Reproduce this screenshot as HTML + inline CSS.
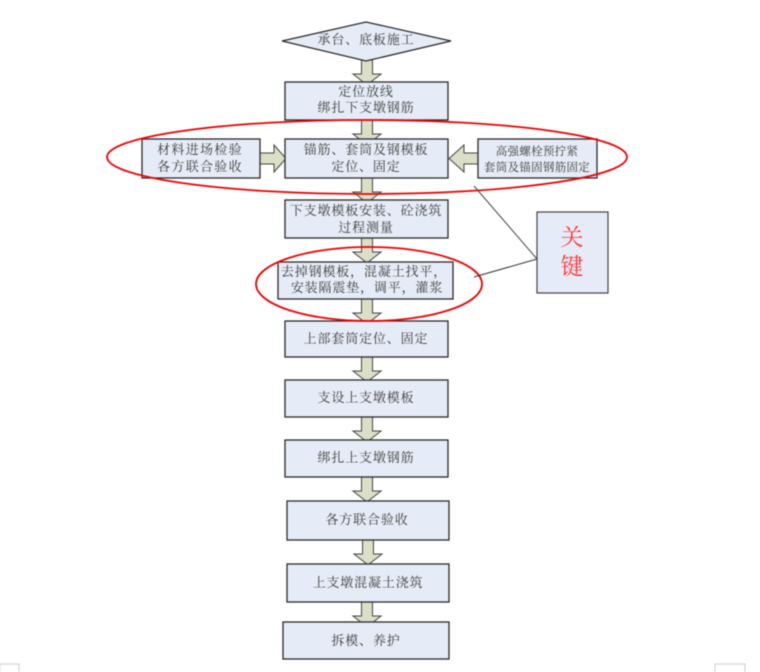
<!DOCTYPE html>
<html>
<head>
<meta charset="utf-8">
<style>
html,body{margin:0;padding:0;background:#fff;width:760px;height:672px;overflow:hidden}
svg{display:block;filter:blur(0.45px)}
text{font-family:"Liberation Serif","Noto Serif CJK SC",serif;font-size:13px;letter-spacing:0.85px;fill:#3a3a3a;text-anchor:middle}
.b{fill:#e6ecf7;stroke:#2a2a2a;stroke-width:1.3}
.a{fill:#dadfc6;stroke:#444;stroke-width:1}
</style>
</head>
<body>
<svg width="760" height="672" viewBox="0 0 760 672" xmlns="http://www.w3.org/2000/svg">
<defs>
<path id="d" class="a" d="M-5.500 0V14H-14L0 25L14 14H5.500V0Z"/>
</defs>
<use href="#d" x="367" y="60"/>
<use href="#d" x="367" y="120"/>
<use href="#d" x="367" y="178"/>
<use href="#d" x="367" y="238"/>
<use href="#d" x="367" y="299"/>
<use href="#d" x="367" y="357"/>
<use href="#d" x="367" y="417"/>
<use href="#d" x="367" y="477"/>
<use href="#d" x="368" y="540"/>
<use href="#d" x="367" y="602"/>
<path class="a" d="M260 153H274V145L286 158.500L274 172V164H260Z"/>
<path class="a" d="M478 153H464V145L449 158.500L464 172V164H478Z"/>

<polygon class="b" points="282,41 366,22 451,41 366,61"/>
<text x="366" y="44">承台、底板施工</text>

<rect class="b" x="285" y="82" width="163" height="38"/>
<text x="366" y="96">定位放线</text><text x="366" y="112">绑扎下支墩钢筋</text>

<rect class="b" x="285" y="139" width="163" height="39"/>
<text x="366" y="154">锚筋、套筒及钢模板</text><text x="366" y="171">定位、固定</text>

<rect class="b" x="142" y="139" width="118" height="39"/>
<text x="200" y="154" style="letter-spacing:1.300px">材料进场检验</text><text x="200" y="171" style="letter-spacing:1.300px">各方联合验收</text>

<rect class="b" x="478" y="139" width="119" height="39"/>
<text x="537" y="155" style="font-size:11.500px;letter-spacing:.3px">高强螺栓预拧紧</text><text x="537" y="171" style="font-size:11.500px;letter-spacing:.3px">套筒及锚固钢筋固定</text>

<rect class="b" x="285" y="200" width="163" height="38"/>
<text x="366" y="215">下支墩模板安装、砼浇筑</text><text x="366" y="232">过程测量</text>

<rect class="b" x="278" y="262" width="175" height="37"/>
<text x="364" y="276">去掉钢模板，混凝土找平，</text><text x="367" y="292">安装隔震垫，调平，灌浆</text>

<rect class="b" x="285" y="321" width="163" height="36"/>
<text x="366" y="343">上部套筒定位、固定</text>

<rect class="b" x="285" y="380" width="163" height="37"/>
<text x="366" y="402">支设上支墩模板</text>

<rect class="b" x="285" y="440" width="163" height="37"/>
<text x="366" y="462">绑扎上支墩钢筋</text>

<rect class="b" x="287" y="501" width="162" height="39"/>
<text x="367" y="524">各方联合验收</text>

<rect class="b" x="287" y="564" width="162" height="38"/>
<text x="368" y="587">上支墩混凝土浇筑</text>

<rect class="b" x="283" y="622" width="166" height="37"/>
<text x="366" y="645">拆模、养护</text>

<ellipse cx="367" cy="157" rx="260" ry="37" fill="none" stroke="#f00000" stroke-width="1.800"/>
<ellipse cx="369" cy="284" rx="113" ry="37" fill="none" stroke="#f00000" stroke-width="1.800"/>

<line x1="474" y1="186" x2="537" y2="259" stroke="#444" stroke-width="1"/>
<line x1="474" y1="277" x2="537" y2="259" stroke="#333" stroke-width="1"/>
<rect x="537" y="212" width="71" height="81" fill="#e6ecf7" stroke="#444" stroke-width="1.200"/>
<text x="572" y="245" style="font-size:23px;fill:#f33;letter-spacing:0">关</text>
<text x="572" y="274" style="font-size:23px;fill:#f33;letter-spacing:0">键</text>

<path d="M0 672V664H19V672M745 672V664H715V672" fill="none" stroke="#ccc" stroke-width="1"/>
</svg>
</body>
</html>
